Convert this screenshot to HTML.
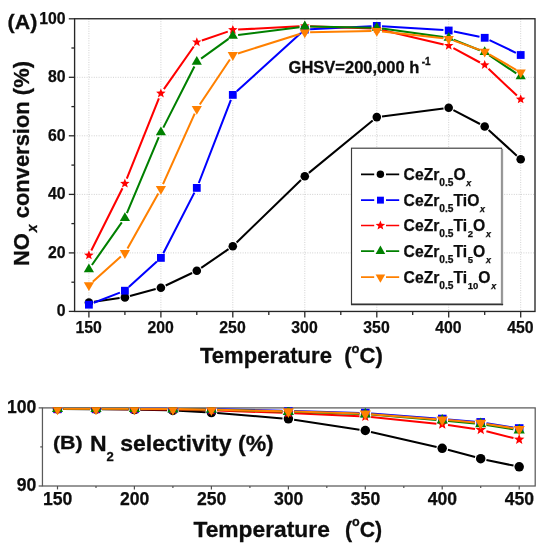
<!DOCTYPE html>
<html lang="en">
<head>
<meta charset="utf-8">
<title>NOx conversion and N2 selectivity</title>
<style>
html,body{margin:0;padding:0;background:#fff;}
svg{display:block;}
</style>
</head>
<body>
<svg width="547" height="550" viewBox="0 0 547 550" font-family="Liberation Sans, Arial, sans-serif" font-weight="bold">
<rect width="547" height="550" fill="#ffffff"/>
<g stroke="#d0d0d0" stroke-width="1" stroke-dasharray="1 1.4" fill="none">
<line x1="88.9" y1="18.75" x2="88.9" y2="311.45"/>
<line x1="160.9" y1="18.75" x2="160.9" y2="311.45"/>
<line x1="232.8" y1="18.75" x2="232.8" y2="311.45"/>
<line x1="304.8" y1="18.75" x2="304.8" y2="311.45"/>
<line x1="376.8" y1="18.75" x2="376.8" y2="311.45"/>
<line x1="448.7" y1="18.75" x2="448.7" y2="311.45"/>
<line x1="520.7" y1="18.75" x2="520.7" y2="311.45"/>
<line x1="74.6" y1="252.9" x2="535.0" y2="252.9"/>
<line x1="74.6" y1="194.4" x2="535.0" y2="194.4"/>
<line x1="74.6" y1="135.8" x2="535.0" y2="135.8"/>
<line x1="74.6" y1="77.3" x2="535.0" y2="77.3"/>
</g>
<g fill="#000000"><path d="M94.1 301.8L119.6 298.1M130.0 296.0L155.7 289.1M165.7 285.5L192.1 273.0M201.2 267.8L228.5 249.2M236.6 242.5L301.0 179.9M308.9 172.9L372.7 120.5M382.0 116.4L443.5 108.4M453.4 110.2L480.0 124.0M488.6 130.0L516.8 155.7" fill="none" stroke="#000000" stroke-width="2.05"/>
<circle cx="88.9" cy="302.5" r="4.30" fill="#000000"/>
<circle cx="124.9" cy="297.4" r="4.30" fill="#000000"/>
<circle cx="160.9" cy="287.7" r="4.30" fill="#000000"/>
<circle cx="196.8" cy="270.8" r="4.30" fill="#000000"/>
<circle cx="232.8" cy="246.2" r="4.30" fill="#000000"/>
<circle cx="304.8" cy="176.2" r="4.30" fill="#000000"/>
<circle cx="376.8" cy="117.1" r="4.30" fill="#000000"/>
<circle cx="448.7" cy="107.7" r="4.30" fill="#000000"/>
<circle cx="484.7" cy="126.5" r="4.30" fill="#000000"/>
<circle cx="520.7" cy="159.2" r="4.30" fill="#000000"/>
</g>
<g fill="#0000ff"><path d="M93.8 302.8L119.9 292.6M128.8 287.1L156.9 261.5M163.3 253.2L194.4 192.6M198.8 183.0L230.9 99.8M236.8 91.3L300.9 33.1M310.1 29.3L371.5 26.2M382.0 26.3L443.4 30.1M453.9 31.5L479.5 36.7M489.5 40.1L515.9 52.8" fill="none" stroke="#0000ff" stroke-width="2.05"/>
<rect x="85.0" y="300.8" width="7.8" height="7.8" fill="#0000ff"/>
<rect x="121.0" y="286.8" width="7.8" height="7.8" fill="#0000ff"/>
<rect x="157.0" y="254.0" width="7.8" height="7.8" fill="#0000ff"/>
<rect x="192.9" y="184.0" width="7.8" height="7.8" fill="#0000ff"/>
<rect x="228.9" y="91.0" width="7.8" height="7.8" fill="#0000ff"/>
<rect x="300.9" y="25.7" width="7.8" height="7.8" fill="#0000ff"/>
<rect x="372.9" y="22.0" width="7.8" height="7.8" fill="#0000ff"/>
<rect x="444.8" y="26.6" width="7.8" height="7.8" fill="#0000ff"/>
<rect x="480.8" y="33.9" width="7.8" height="7.8" fill="#0000ff"/>
<rect x="516.8" y="51.1" width="7.8" height="7.8" fill="#0000ff"/>
</g>
<g fill="#ff0000"><path d="M91.3 250.5L122.5 188.3M126.8 178.6L158.9 98.3M163.9 89.1L193.8 46.5M201.9 40.5L227.8 31.6M238.1 29.6L299.5 26.3M310.1 26.3L371.5 28.5M381.9 29.9L443.6 44.5M453.4 48.2L480.0 62.5M488.5 68.7L516.9 95.6" fill="none" stroke="#ff0000" stroke-width="2.05"/>
<polygon points="88.9,250.3 90.2,253.5 93.7,253.7 90.9,255.9 91.8,259.3 88.9,257.4 86.0,259.3 86.9,255.9 84.1,253.7 87.6,253.5" fill="#ff0000"/>
<polygon points="124.9,178.5 126.1,181.8 129.6,182.0 126.9,184.2 127.8,187.6 124.9,185.7 121.9,187.6 122.8,184.2 120.1,182.0 123.6,181.8" fill="#ff0000"/>
<polygon points="160.9,88.4 162.1,91.6 165.6,91.8 162.9,94.1 163.8,97.4 160.9,95.5 157.9,97.4 158.8,94.1 156.1,91.8 159.6,91.6" fill="#ff0000"/>
<polygon points="196.8,37.2 198.1,40.4 201.6,40.6 198.9,42.8 199.8,46.2 196.8,44.3 193.9,46.2 194.8,42.8 192.1,40.6 195.6,40.4" fill="#ff0000"/>
<polygon points="232.8,24.9 234.1,28.1 237.6,28.3 234.9,30.5 235.8,33.9 232.8,32.0 229.9,33.9 230.8,30.5 228.1,28.3 231.6,28.1" fill="#ff0000"/>
<polygon points="304.8,21.1 306.1,24.3 309.6,24.5 306.8,26.7 307.7,30.1 304.8,28.2 301.9,30.1 302.8,26.7 300.0,24.5 303.5,24.3" fill="#ff0000"/>
<polygon points="376.8,23.7 378.0,27.0 381.5,27.2 378.8,29.4 379.7,32.7 376.8,30.9 373.8,32.7 374.7,29.4 372.0,27.2 375.5,27.0" fill="#ff0000"/>
<polygon points="448.7,40.7 450.0,43.9 453.5,44.1 450.8,46.3 451.7,49.7 448.7,47.8 445.8,49.7 446.7,46.3 444.0,44.1 447.5,43.9" fill="#ff0000"/>
<polygon points="484.7,60.0 486.0,63.3 489.5,63.5 486.8,65.7 487.6,69.0 484.7,67.1 481.8,69.0 482.7,65.7 480.0,63.5 483.4,63.3" fill="#ff0000"/>
<polygon points="520.7,94.2 522.0,97.5 525.4,97.7 522.7,99.9 523.6,103.3 520.7,101.4 517.8,103.3 518.6,99.9 515.9,97.7 519.4,97.5" fill="#ff0000"/>
</g>
<g fill="#008000"><path d="M91.9 265.0L121.8 222.4M126.9 213.2L158.8 137.2M163.3 127.6L194.4 66.5M201.1 58.7L228.5 38.8M238.1 35.1L299.5 27.2M310.1 26.6L371.5 27.7M382.0 28.5L443.5 37.0M453.6 39.7L479.8 50.2M489.1 55.1L516.3 73.4" fill="none" stroke="#008000" stroke-width="2.05"/>
<polygon points="88.9,263.4 94.0,272.2 83.8,272.2" fill="#008000"/>
<polygon points="124.9,212.2 130.0,221.0 119.8,221.0" fill="#008000"/>
<polygon points="160.9,126.5 166.0,135.3 155.8,135.3" fill="#008000"/>
<polygon points="196.8,55.9 201.9,64.7 191.7,64.7" fill="#008000"/>
<polygon points="232.8,29.9 237.9,38.7 227.7,38.7" fill="#008000"/>
<polygon points="304.8,20.6 309.9,29.4 299.7,29.4" fill="#008000"/>
<polygon points="376.8,22.0 381.9,30.8 371.7,30.8" fill="#008000"/>
<polygon points="448.7,31.9 453.8,40.7 443.6,40.7" fill="#008000"/>
<polygon points="484.7,46.3 489.8,55.1 479.6,55.1" fill="#008000"/>
<polygon points="520.7,70.5 525.8,79.3 515.6,79.3" fill="#008000"/>
</g>
<g fill="#ff8000"><path d="M92.8 281.7L120.9 256.6M127.5 248.4L158.3 193.6M163.0 184.1L194.7 113.7M199.8 104.5L229.9 59.5M237.9 53.5L299.7 34.0M310.1 32.3L371.5 31.0M382.0 31.5L443.5 38.2M453.7 40.6L479.7 49.9M489.3 54.3L516.1 69.8" fill="none" stroke="#ff8000" stroke-width="2.05"/>
<polygon points="88.9,291.1 94.0,282.3 83.8,282.3" fill="#ff8000"/>
<polygon points="124.9,258.9 130.0,250.1 119.8,250.1" fill="#ff8000"/>
<polygon points="160.9,194.8 166.0,186.0 155.8,186.0" fill="#ff8000"/>
<polygon points="196.8,114.8 201.9,106.0 191.7,106.0" fill="#ff8000"/>
<polygon points="232.8,60.9 237.9,52.1 227.7,52.1" fill="#ff8000"/>
<polygon points="304.8,38.2 309.9,29.4 299.7,29.4" fill="#ff8000"/>
<polygon points="376.8,36.8 381.9,28.0 371.7,28.0" fill="#ff8000"/>
<polygon points="448.7,44.7 453.8,35.9 443.6,35.9" fill="#ff8000"/>
<polygon points="484.7,57.5 489.8,48.7 479.6,48.7" fill="#ff8000"/>
<polygon points="520.7,78.3 525.8,69.5 515.6,69.5" fill="#ff8000"/>
</g>
<rect x="74.6" y="18.75" width="460.4" height="292.7" fill="none" stroke="#262626" stroke-width="1.35"/>
<g stroke="#262626" stroke-width="1.3">
<line x1="88.9" y1="311.45" x2="88.9" y2="317.45"/>
<line x1="124.9" y1="311.45" x2="124.9" y2="314.95"/>
<line x1="160.9" y1="311.45" x2="160.9" y2="317.45"/>
<line x1="196.8" y1="311.45" x2="196.8" y2="314.95"/>
<line x1="232.8" y1="311.45" x2="232.8" y2="317.45"/>
<line x1="268.8" y1="311.45" x2="268.8" y2="314.95"/>
<line x1="304.8" y1="311.45" x2="304.8" y2="317.45"/>
<line x1="340.8" y1="311.45" x2="340.8" y2="314.95"/>
<line x1="376.8" y1="311.45" x2="376.8" y2="317.45"/>
<line x1="412.7" y1="311.45" x2="412.7" y2="314.95"/>
<line x1="448.7" y1="311.45" x2="448.7" y2="317.45"/>
<line x1="484.7" y1="311.45" x2="484.7" y2="314.95"/>
<line x1="520.7" y1="311.45" x2="520.7" y2="317.45"/>
<line x1="74.6" y1="311.4" x2="68.8" y2="311.4"/>
<line x1="74.6" y1="282.2" x2="71.39999999999999" y2="282.2"/>
<line x1="74.6" y1="252.9" x2="68.8" y2="252.9"/>
<line x1="74.6" y1="223.6" x2="71.39999999999999" y2="223.6"/>
<line x1="74.6" y1="194.4" x2="68.8" y2="194.4"/>
<line x1="74.6" y1="165.1" x2="71.39999999999999" y2="165.1"/>
<line x1="74.6" y1="135.8" x2="68.8" y2="135.8"/>
<line x1="74.6" y1="106.6" x2="71.39999999999999" y2="106.6"/>
<line x1="74.6" y1="77.3" x2="68.8" y2="77.3"/>
<line x1="74.6" y1="48.0" x2="71.39999999999999" y2="48.0"/>
<line x1="74.6" y1="18.8" x2="68.8" y2="18.8"/>
</g>
<g font-size="15.8" fill="#0d0d0d" stroke="#0d0d0d" stroke-width="0.25">
<text x="88.6" y="333" text-anchor="middle">150</text>
<text x="160.6" y="333" text-anchor="middle">200</text>
<text x="232.5" y="333" text-anchor="middle">250</text>
<text x="304.5" y="333" text-anchor="middle">300</text>
<text x="376.5" y="333" text-anchor="middle">350</text>
<text x="448.4" y="333" text-anchor="middle">400</text>
<text x="520.4" y="333" text-anchor="middle">450</text>
<text x="65.6" y="316.3" text-anchor="end">0</text>
<text x="65.6" y="257.8" text-anchor="end">20</text>
<text x="65.6" y="199.3" text-anchor="end">40</text>
<text x="65.6" y="140.7" text-anchor="end">60</text>
<text x="65.6" y="82.2" text-anchor="end">80</text>
<text x="65.6" y="23.6" text-anchor="end">100</text>
</g>
<text transform="translate(7.6,29.4) scale(1.04,1)" font-size="20.6" fill="#0d0d0d" stroke="#0d0d0d" stroke-width="0.3" >(A)</text>
<text transform="translate(288.6,73.4) scale(1.0,1)" font-size="16.5" fill="#0d0d0d" stroke="#0d0d0d" stroke-width="0.3" >GHSV=200,000 h<tspan font-size="10" dy="-8" dx="2.4">-1</tspan></text>
<text transform="translate(200,363) scale(1.0,1)" font-size="22.05" fill="#0d0d0d" stroke="#0d0d0d" stroke-width="0.3" xml:space="preserve">Temperature  (<tspan font-size="13" dy="-10.5">o</tspan><tspan dy="10.5">C)</tspan></text>
<text transform="translate(28.7,266.1) rotate(-90)" font-size="21.95" fill="#0d0d0d" stroke="#0d0d0d" stroke-width="0.3">NO<tspan font-size="14" font-style="italic" dy="8" dx="1">x</tspan><tspan dy="-8"> conversion (%)</tspan></text>
<rect x="351.5" y="148.2" width="150" height="156" fill="#ffffff" stroke="#3c3c3c" stroke-width="1.15"/>
<path d="M502.1 148.9V305.2" stroke="#9a9a9a" stroke-width="2.1" fill="none"/>
<path d="M351 304.5H503.1" stroke="#333333" stroke-width="1.7" fill="none"/>
<path d="M361 174.3H374.2M386 174.3H399.2" stroke="#000000" stroke-width="1.7" fill="none"/>
<circle cx="380.4" cy="174.3" r="3.74" fill="#000000"/>
<text x="403.6" y="180.2" font-size="15.7" fill="#0d0d0d" stroke="#0d0d0d" stroke-width="0.25">CeZr<tspan font-size="10.2" dy="6">0.5</tspan><tspan dy="-6">O</tspan><tspan font-size="8.9" font-style="italic" dy="6" dx="0.6">x</tspan></text>
<path d="M361 200.1H374.2M386 200.1H399.2" stroke="#0000ff" stroke-width="1.7" fill="none"/>
<rect x="377.0" y="196.7" width="6.9" height="6.9" fill="#0000ff"/>
<text x="403.6" y="206.0" font-size="15.7" fill="#0d0d0d" stroke="#0d0d0d" stroke-width="0.25">CeZr<tspan font-size="10.2" dy="6">0.5</tspan><tspan dy="-6">TiO</tspan><tspan font-size="8.9" font-style="italic" dy="6" dx="0.6">x</tspan></text>
<path d="M361 225.5H374.2M386 225.5H399.2" stroke="#ff0000" stroke-width="1.7" fill="none"/>
<polygon points="380.4,220.5 381.7,223.8 385.2,224.0 382.4,226.2 383.3,229.5 380.4,227.7 377.5,229.5 378.4,226.2 375.6,224.0 379.1,223.8" fill="#ff0000"/>
<text x="403.6" y="231.4" font-size="15.7" fill="#0d0d0d" stroke="#0d0d0d" stroke-width="0.25">CeZr<tspan font-size="10.2" dy="6">0.5</tspan><tspan dy="-6">Ti</tspan><tspan font-size="9.5" dy="6" dx="0.6">2</tspan><tspan dy="-6">O</tspan><tspan font-size="8.9" font-style="italic" dy="6" dx="0.6">x</tspan></text>
<path d="M361 251.2H374.2M386 251.2H399.2" stroke="#008000" stroke-width="1.7" fill="none"/>
<polygon points="380.4,245.6 385.2,254.0 375.6,254.0" fill="#008000"/>
<text x="403.6" y="257.1" font-size="15.7" fill="#0d0d0d" stroke="#0d0d0d" stroke-width="0.25">CeZr<tspan font-size="10.2" dy="6">0.5</tspan><tspan dy="-6">Ti</tspan><tspan font-size="9.5" dy="6" dx="0.6">5</tspan><tspan dy="-6">O</tspan><tspan font-size="8.9" font-style="italic" dy="6" dx="0.6">x</tspan></text>
<path d="M361 277.2H374.2M386 277.2H399.2" stroke="#ff8000" stroke-width="1.7" fill="none"/>
<polygon points="380.4,282.8 385.2,274.4 375.6,274.4" fill="#ff8000"/>
<text x="403.6" y="283.1" font-size="15.7" fill="#0d0d0d" stroke="#0d0d0d" stroke-width="0.25">CeZr<tspan font-size="10.2" dy="6">0.5</tspan><tspan dy="-6">Ti</tspan><tspan font-size="9.5" dy="6" dx="0.6">10</tspan><tspan dy="-6">O</tspan><tspan font-size="8.9" font-style="italic" dy="6" dx="0.6">x</tspan></text>
<rect x="42.45" y="407.9" width="492.75" height="78.10" fill="none" stroke="#5a5a5a" stroke-width="1.25"/>
<g stroke="#505050" stroke-width="1.2">
<line x1="57.5" y1="486.0" x2="57.5" y2="489.4"/>
<line x1="96.0" y1="486.0" x2="96.0" y2="487.9"/>
<line x1="134.4" y1="486.0" x2="134.4" y2="489.4"/>
<line x1="172.9" y1="486.0" x2="172.9" y2="487.9"/>
<line x1="211.4" y1="486.0" x2="211.4" y2="489.4"/>
<line x1="249.9" y1="486.0" x2="249.9" y2="487.9"/>
<line x1="288.4" y1="486.0" x2="288.4" y2="489.4"/>
<line x1="326.8" y1="486.0" x2="326.8" y2="487.9"/>
<line x1="365.3" y1="486.0" x2="365.3" y2="489.4"/>
<line x1="403.8" y1="486.0" x2="403.8" y2="487.9"/>
<line x1="442.2" y1="486.0" x2="442.2" y2="489.4"/>
<line x1="480.7" y1="486.0" x2="480.7" y2="487.9"/>
<line x1="519.2" y1="486.0" x2="519.2" y2="489.4"/>
<line x1="42.45" y1="486.0" x2="38.650000000000006" y2="486.0"/>
<line x1="42.45" y1="446.9" x2="40.25" y2="446.9"/>
<line x1="42.45" y1="407.9" x2="38.650000000000006" y2="407.9"/>
</g>
<clipPath id="cb"><rect x="42.45" y="407.2" width="492.75" height="78.10"/></clipPath>
<g clip-path="url(#cb)">
<g fill="#000000"><path d="M63.3 409.0L90.1 409.2M101.8 409.3L128.6 409.6M140.3 409.7L167.1 410.3M178.7 410.7L205.6 412.3M217.2 413.1L282.5 418.4M294.1 419.7L359.5 429.7M371.0 431.9L436.6 447.0M447.9 449.8L475.1 457.1M486.4 459.9L513.5 465.6" fill="none" stroke="#000000" stroke-width="2.05"/>
<circle cx="57.5" cy="409.0" r="4.73" fill="#000000"/>
<circle cx="96.0" cy="409.2" r="4.73" fill="#000000"/>
<circle cx="134.4" cy="409.6" r="4.73" fill="#000000"/>
<circle cx="172.9" cy="410.4" r="4.73" fill="#000000"/>
<circle cx="211.4" cy="412.6" r="4.73" fill="#000000"/>
<circle cx="288.4" cy="418.8" r="4.73" fill="#000000"/>
<circle cx="365.3" cy="430.5" r="4.73" fill="#000000"/>
<circle cx="442.2" cy="448.3" r="4.73" fill="#000000"/>
<circle cx="480.7" cy="458.7" r="4.73" fill="#000000"/>
<circle cx="519.2" cy="466.8" r="4.73" fill="#000000"/>
</g>
<g fill="#0000ff"><path d="M63.3 408.8L90.1 408.8M101.8 408.8L128.6 408.8M140.3 408.8L167.1 408.8M178.8 408.9L205.6 409.1M217.2 409.3L282.5 410.7M294.2 411.0L359.5 413.0M371.1 413.6L436.4 418.5M448.1 419.5L474.9 421.8M486.5 423.3L513.4 427.6" fill="none" stroke="#0000ff" stroke-width="2.05"/>
<rect x="53.2" y="404.5" width="8.6" height="8.6" fill="#0000ff"/>
<rect x="91.7" y="404.5" width="8.6" height="8.6" fill="#0000ff"/>
<rect x="130.2" y="404.5" width="8.6" height="8.6" fill="#0000ff"/>
<rect x="168.6" y="404.5" width="8.6" height="8.6" fill="#0000ff"/>
<rect x="207.1" y="404.9" width="8.6" height="8.6" fill="#0000ff"/>
<rect x="284.1" y="406.6" width="8.6" height="8.6" fill="#0000ff"/>
<rect x="361.0" y="408.8" width="8.6" height="8.6" fill="#0000ff"/>
<rect x="438.0" y="414.7" width="8.6" height="8.6" fill="#0000ff"/>
<rect x="476.4" y="418.1" width="8.6" height="8.6" fill="#0000ff"/>
<rect x="514.9" y="424.2" width="8.6" height="8.6" fill="#0000ff"/>
</g>
<g fill="#ff0000"><path d="M63.3 409.0L90.1 409.0M101.8 409.0L128.6 409.2M140.3 409.3L167.1 409.6M178.8 409.7L205.6 410.3M217.2 410.6L282.5 412.8M294.2 413.2L359.5 416.2M371.1 417.1L436.4 423.7M448.0 425.1L475.0 428.9M486.4 431.2L513.5 438.1" fill="none" stroke="#ff0000" stroke-width="2.05"/>
<polygon points="57.5,403.5 58.9,407.1 62.7,407.3 59.7,409.7 60.7,413.4 57.5,411.4 54.3,413.4 55.3,409.7 52.3,407.3 56.1,407.1" fill="#ff0000"/>
<polygon points="96.0,403.5 97.4,407.1 101.2,407.3 98.2,409.7 99.2,413.4 96.0,411.4 92.7,413.4 93.7,409.7 90.7,407.3 94.6,407.1" fill="#ff0000"/>
<polygon points="134.4,403.7 135.8,407.3 139.7,407.5 136.7,410.0 137.7,413.7 134.4,411.6 131.2,413.7 132.2,410.0 129.2,407.5 133.1,407.3" fill="#ff0000"/>
<polygon points="172.9,404.1 174.3,407.7 178.2,407.9 175.2,410.3 176.2,414.1 172.9,412.0 169.7,414.1 170.7,410.3 167.7,407.9 171.5,407.7" fill="#ff0000"/>
<polygon points="211.4,404.9 212.8,408.5 216.6,408.7 213.6,411.1 214.6,414.8 211.4,412.8 208.2,414.8 209.2,411.1 206.2,408.7 210.0,408.5" fill="#ff0000"/>
<polygon points="288.4,407.5 289.7,411.1 293.6,411.3 290.6,413.7 291.6,417.4 288.4,415.3 285.1,417.4 286.1,413.7 283.1,411.3 287.0,411.1" fill="#ff0000"/>
<polygon points="365.3,411.0 366.7,414.6 370.5,414.8 367.5,417.2 368.5,420.9 365.3,418.9 362.1,420.9 363.1,417.2 360.1,414.8 363.9,414.6" fill="#ff0000"/>
<polygon points="442.2,418.8 443.6,422.4 447.5,422.6 444.5,425.0 445.5,428.8 442.2,426.7 439.0,428.8 440.0,425.0 437.0,422.6 440.9,422.4" fill="#ff0000"/>
<polygon points="480.7,424.3 482.1,427.9 486.0,428.1 483.0,430.5 484.0,434.2 480.7,432.1 477.5,434.2 478.5,430.5 475.5,428.1 479.3,427.9" fill="#ff0000"/>
<polygon points="519.2,434.0 520.6,437.6 524.4,437.8 521.4,440.3 522.4,444.0 519.2,441.9 516.0,444.0 517.0,440.3 514.0,437.8 517.8,437.6" fill="#ff0000"/>
</g>
<g fill="#008000"><path d="M63.3 408.8L90.1 408.8M101.8 408.8L128.6 408.8M140.3 408.9L167.1 409.1M178.8 409.2L205.6 409.5M217.2 409.8L282.5 411.5M294.2 411.8L359.5 414.0M371.1 414.6L436.4 419.9M448.1 420.9L474.9 423.5M486.5 425.0L513.4 429.3" fill="none" stroke="#008000" stroke-width="2.05"/>
<polygon points="57.5,402.4 63.1,412.1 51.9,412.1" fill="#008000"/>
<polygon points="96.0,402.4 101.6,412.1 90.4,412.1" fill="#008000"/>
<polygon points="134.4,402.4 140.1,412.1 128.8,412.1" fill="#008000"/>
<polygon points="172.9,402.7 178.5,412.4 167.3,412.4" fill="#008000"/>
<polygon points="211.4,403.2 217.0,412.8 205.8,412.8" fill="#008000"/>
<polygon points="288.4,405.2 294.0,414.9 282.7,414.9" fill="#008000"/>
<polygon points="365.3,407.7 370.9,417.4 359.7,417.4" fill="#008000"/>
<polygon points="442.2,413.9 447.9,423.6 436.6,423.6" fill="#008000"/>
<polygon points="480.7,417.6 486.3,427.3 475.1,427.3" fill="#008000"/>
<polygon points="519.2,423.8 524.8,433.5 513.6,433.5" fill="#008000"/>
</g>
<g fill="#ff8000"><path d="M63.3 408.8L90.1 408.8M101.8 408.8L128.6 408.8M140.3 408.9L167.1 409.0M178.8 409.1L205.6 409.5M217.2 409.7L282.5 411.3M294.2 411.6L359.5 413.6M371.1 414.2L436.4 419.2M448.1 420.1L474.9 422.5M486.5 423.9L513.4 428.2" fill="none" stroke="#ff8000" stroke-width="2.05"/>
<polygon points="57.5,415.3 63.1,405.6 51.9,405.6" fill="#ff8000"/>
<polygon points="96.0,415.3 101.6,405.6 90.4,405.6" fill="#ff8000"/>
<polygon points="134.4,415.3 140.1,405.6 128.8,405.6" fill="#ff8000"/>
<polygon points="172.9,415.4 178.5,405.8 167.3,405.8" fill="#ff8000"/>
<polygon points="211.4,416.0 217.0,406.3 205.8,406.3" fill="#ff8000"/>
<polygon points="288.4,417.9 294.0,408.2 282.7,408.2" fill="#ff8000"/>
<polygon points="365.3,420.2 370.9,410.5 359.7,410.5" fill="#ff8000"/>
<polygon points="442.2,426.1 447.9,416.4 436.6,416.4" fill="#ff8000"/>
<polygon points="480.7,429.4 486.3,419.7 475.1,419.7" fill="#ff8000"/>
<polygon points="519.2,435.6 524.8,425.9 513.6,425.9" fill="#ff8000"/>
</g>
</g>
<g font-size="17.6" fill="#0d0d0d" stroke="#0d0d0d" stroke-width="0.25">
<text x="57.7" y="505.2" text-anchor="middle">150</text>
<text x="134.6" y="505.2" text-anchor="middle">200</text>
<text x="211.6" y="505.2" text-anchor="middle">250</text>
<text x="288.6" y="505.2" text-anchor="middle">300</text>
<text x="365.5" y="505.2" text-anchor="middle">350</text>
<text x="442.4" y="505.2" text-anchor="middle">400</text>
<text x="519.4" y="505.2" text-anchor="middle">450</text>
<text x="36.3" y="490.6" text-anchor="end">90</text>
<text x="36.3" y="412.5" text-anchor="end">100</text>
</g>
<text transform="translate(53.0,449.2) scale(1.15,1)" font-size="18.6" fill="#0d0d0d" stroke="#0d0d0d" stroke-width="0.3" >(B)</text>
<text transform="translate(89.9,451.4) scale(1.047,1)" font-size="22" fill="#0d0d0d" stroke="#0d0d0d" stroke-width="0.3" >N<tspan font-size="12.5" dy="10">2</tspan><tspan dy="-10"> selectivity (%)</tspan></text>
<text transform="translate(193.4,536.6) scale(1.035,1)" font-size="22.05" fill="#0d0d0d" stroke="#0d0d0d" stroke-width="0.3" >Temperature</text>
<text transform="translate(345.0,536.6) scale(0.965,1)" font-size="22.05" fill="#0d0d0d" stroke="#0d0d0d" stroke-width="0.3" >(<tspan font-size="13" dy="-10.5">o</tspan><tspan dy="10.5">C)</tspan></text>
</svg>
</body>
</html>
